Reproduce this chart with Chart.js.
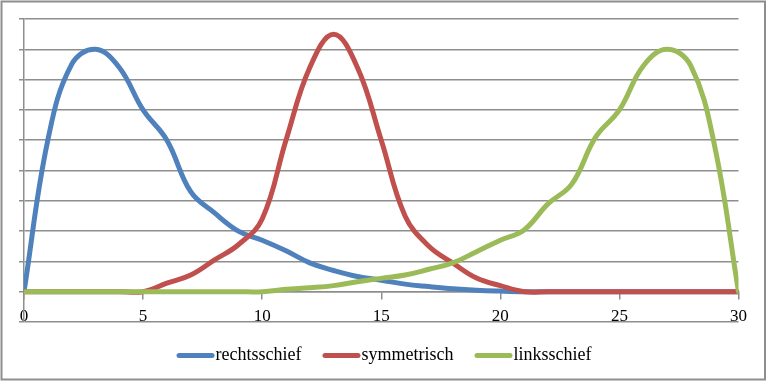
<!DOCTYPE html>
<html>
<head>
<meta charset="utf-8">
<script src="https://cdn.jsdelivr.net/npm/chart.js@4"></script>
<style>
html,body{margin:0;padding:0;background:#fff;}
#wrap{position:relative;width:768px;height:383px;}
</style>
</head>
<body>
<div id="wrap"><canvas id="c" width="768" height="383"></canvas></div>
<script>
const xValues = [0,1,2,3,4,5,6,7,8,9,10,11,12,13,14,15,16,17,18,19,20,21,22,23,24,25,26,27,28,29,30];
const rechtsschief = [0,5.0,7.5,8.0,7.4,6.0,5.0,3.3,2.6,2.0,1.7,1.35,0.95,0.7,0.5,0.38,0.25,0.17,0.1,0.05,0.02,0,0,0,0,0,0,0,0,0,0];
const symmetrisch = [0,0,0,0,0,0,0.28,0.55,1.05,1.55,2.4,5.0,7.4,8.5,7.4,5.0,2.5,1.5,0.95,0.45,0.2,0,0,0,0,0,0,0,0,0,0];
const linksschief = [0,0,0,0,0,0,0,0,0,0,0,0.08,0.13,0.2,0.33,0.44,0.55,0.74,0.95,1.32,1.7,2.04,2.9,3.55,5.1,6.0,7.45,8.0,7.45,4.8,0];
const seriesNames = ['rechtsschief','symmetrisch','linksschief'];
const seriesColors = ['#4F81BD','#C0504D','#9BBB59'];
const xTicks = [0,5,10,15,20,25,30];

const toPts = arr => arr.map((v,i)=>({x:xValues[i], y:v}));
const allSeries = [rechtsschief, symmetrisch, linksschief];
const LEGEND_FONT = 18;
const LEGEND_BOX = 30;

const frame = {
  id:'frame',
  beforeDraw(chart){
    const ctx = chart.ctx;
    ctx.save();
    ctx.fillStyle = '#fff';
    ctx.fillRect(0,0,chart.width,chart.height);
    ctx.restore();
  },
  afterDraw(chart){
    const ctx = chart.ctx;
    // legend line samples, placed from the legend's own layout boxes
    const lg = chart.legend;
    if (lg && lg.legendHitBoxes) {
      lg.legendHitBoxes.forEach((hb, i) => {
        const item = lg.legendItems[i];
        const textStart = hb.left + LEGEND_BOX + LEGEND_FONT/2;
        const yc = hb.top + hb.height/2;
        ctx.save();
        ctx.strokeStyle = seriesColors[item.datasetIndex];
        ctx.lineWidth = 5;
        ctx.lineCap = 'round';
        ctx.beginPath();
        ctx.moveTo(textStart - 36.5, yc);
        ctx.lineTo(textStart - 3.5, yc);
        ctx.stroke();
        ctx.restore();
      });
    }
    ctx.save();
    ctx.strokeStyle = '#8e8e8e';
    ctx.lineWidth = 2;
    ctx.strokeRect(1.5,1.5,763.5,378);
    ctx.restore();
  }
};

new Chart(document.getElementById('c'), {
  type:'line',
  data:{
    datasets: allSeries.map((s,i)=>({
      label: seriesNames[i],
      data: toPts(s),
      borderColor: seriesColors[i],
      backgroundColor: seriesColors[i],
      borderWidth: 5,
      borderCapStyle: 'round',
      borderJoinStyle: 'round',
      pointRadius: 0,
      pointHoverRadius: 0,
      tension: 0.4,
      fill: false,
      order: 2 - i
    }))
  },
  options:{
    responsive:false,
    animation:false,
    events:[],
    layout:{padding:{left:0, top:19, right:0, bottom:5}},
    plugins:{
      tooltip:{enabled:false},
      legend:{
        position:'bottom',
        labels:{
          usePointStyle:false,
          boxWidth:LEGEND_BOX,
          boxHeight:25,
          padding:21,
          color:'#000',
          font:{family:'Liberation Serif', size:LEGEND_FONT},
          sort:(a,b)=>a.datasetIndex-b.datasetIndex,
          generateLabels: chart => Chart.defaults.plugins.legend.labels.generateLabels(chart).map(it => Object.assign(it, {fillStyle:'rgba(0,0,0,0)', strokeStyle:'rgba(0,0,0,0)', lineWidth:0}))
        }
      }
    },
    scales:{
      x:{
        type:'linear',
        position:{y:0},
        min:0, max:30,
        afterBuildTicks: s => { s.ticks = xTicks.map(v=>({value:v})); },
        ticks:{color:'#000', font:{family:'Liberation Serif', size:17}, padding:8, maxRotation:0},
        grid:{drawOnChartArea:false, drawTicks:true, tickLength:7, color:'#8e8e8e', lineWidth:1.5},
        border:{display:true, color:'#8e8e8e', width:1.5}
      },
      y:{
        type:'linear',
        min:-1, max:9,
        ticks:{display:false, stepSize:1},
        afterFit: s => { s.width = 24; },
        grid:{color:'#8e8e8e', lineWidth:1.5, drawTicks:true, tickLength:5},
        border:{display:true, color:'#8e8e8e', width:1.5}
      },
      yRight:{
        type:'linear',
        position:'right',
        display:true,
        ticks:{display:false},
        grid:{display:false},
        border:{display:false},
        afterFit: s => { s.width = 29.5; }
      }
    }
  },
  plugins:[frame]
});
</script>
</body>
</html>
